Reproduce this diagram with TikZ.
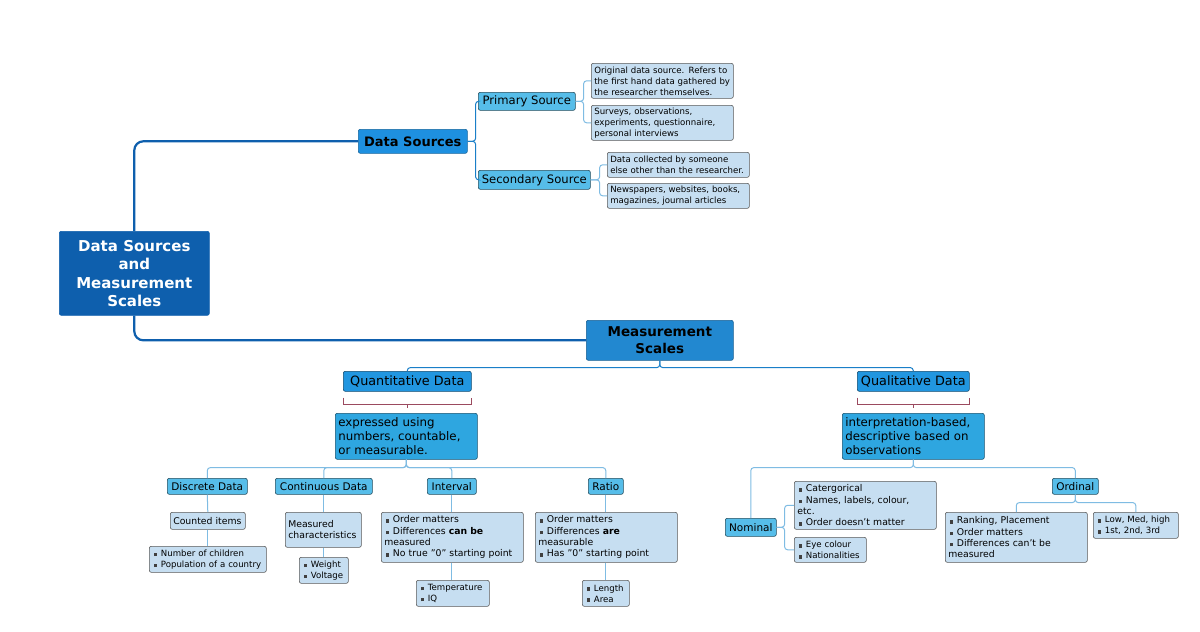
\documentclass[tikz,border=0pt]{standalone}
\usepackage{fontspec}
\setmainfont{DejaVu Sans}
\definecolor{rootb}{HTML}{0E5FAD}
\definecolor{dsb}{HTML}{1E90E0}
\definecolor{msb}{HTML}{2288D0}
\definecolor{lvb}{HTML}{2196E0}
\definecolor{bodyb}{HTML}{2EA6E0}
\definecolor{midb}{HTML}{56BDE9}
\definecolor{leafb}{HTML}{C6DEF1}
\definecolor{connb}{HTML}{1A7FC8}
\definecolor{connl}{HTML}{7FBCE3}
\definecolor{brk}{HTML}{9B4A5F}
\hyphenpenalty=10000 \exhyphenpenalty=10000
\AtBeginDocument{\language=255 \hyphenpenalty=10000}
\newcommand\bul{\hspace*{1.5pt}{\color{black!75}\rule{3.6pt}{3.6pt}}\hspace{3.5pt}}
\newcommand\dq{\char"22\relax}
\newcommand\bx[7]{\pgfmathsetmacro\bw{#4-#2}\pgfmathsetmacro\bh{#5-#3}\pgfmathsetmacro\tw{#4-#2-6}%
\node[anchor=north west,minimum width=\bw pt,minimum height=\bh pt,text width=\tw pt,#6] (#1) at (#2,#3) {\language=255 #7};}
\tikzset{
 box/.style={rounded corners=2pt,inner xsep=3pt,inner ysep=1pt,draw=black!65,line width=0.6pt},
 ctr/.style={align=center,text width={}},
 rootn/.style={box,fill=rootb,draw=rootb,text=white,font=\bfseries\fontsize{15}{18.5}\selectfont,ctr},
 dsn/.style={box,fill=dsb,draw=dsb!70!black,font=\bfseries\fontsize{13}{15}\selectfont,ctr},
 msn/.style={box,fill=msb,draw=msb!70!black,font=\bfseries\fontsize{13.5}{17}\selectfont,ctr},
 lvn/.style={box,fill=lvb,draw=lvb!50!black,font=\fontsize{12.8}{14}\selectfont,ctr},
 bodyn/.style={box,fill=bodyb,draw=bodyb!50!black,font=\fontsize{11.8}{14}\selectfont,align=left},
 midn/.style={box,fill=midb,draw=midb!40!black,font=\fontsize{10.5}{11}\selectfont,ctr},
 srcn/.style={box,fill=midb,draw=midb!40!black,font=\fontsize{11.6}{13}\selectfont,ctr},
 leafn/.style={box,fill=leafb,font=\fontsize{8.6}{11}\selectfont,align=left},
 leafc/.style={box,fill=leafb,font=\fontsize{9.3}{11.3}\selectfont,align=left},
 conn/.style={draw=connb,line width=1pt,rounded corners=3pt},
 connL/.style={draw=connl,line width=1pt,rounded corners=3pt},
 rootc/.style={draw=rootb,line width=2.2pt,rounded corners=9pt},
}
\begin{document}
\begin{tikzpicture}[x=1pt,y=-1pt]
\useasboundingbox[fill=white] (0,0) rectangle (1200,632);
\bx{root}{59}{231}{209}{315}{rootn}{Data Sources\\and\\Measurement\\Scales}
\bx{ds}{358}{129}{467}{153}{dsn}{Data Sources}
\bx{ps}{478}{92}{575}{110}{srcn}{Primary Source}
\bx{ss}{478}{170}{590}{189}{srcn}{Secondary Source}
\bx{o1}{591}{63}{733}{98}{leafn}{Original data source. Refers to the first hand data gathered by the researcher themselves.}
\bx{o2}{591}{105}{733}{140}{leafn}{Surveys, observations, experiments, questionnaire, personal interviews}
\bx{s1}{607}{152}{749}{177}{leafn}{Data collected by someone else other than the researcher.}
\bx{s2}{607}{183}{749}{208}{leafn}{Newspapers, websites, books, magazines, journal articles}
\bx{ms}{586}{320}{733}{360}{msn}{Measurement\\Scales}
\bx{qn}{343}{371}{471}{391}{lvn}{Quantitative Data}
\bx{ql}{857}{371}{969}{391}{lvn}{Qualitative Data}
\bx{ex}{335}{413}{477}{459}{bodyn}{expressed using numbers, countable, or measurable.}
\bx{ip}{842}{413}{984}{459}{bodyn}{interpretation-based, descriptive based on observations}
\bx{dd}{167}{478}{247}{494}{midn}{Discrete Data}
\bx{cd}{275}{478}{372}{494}{midn}{Continuous Data}
\bx{iv}{427}{478}{476}{494}{midn}{Interval}
\bx{rt}{588}{478}{623}{494}{midn}{Ratio}
\bx{ci}{170}{512}{245}{529}{leafc}{Counted items}
\bx{nc}{149}{546}{266}{572}{leafn}{\bul Number of children\\\bul Population of a country}
\bx{mc}{285}{512}{361}{547}{leafc}{Measured\\characteristics}
\bx{wv}{299}{557}{348}{583}{leafn}{\bul Weight\\\bul Voltage}
\bx{ib}{381}{512}{523}{562}{leafc}{\bul Order matters\\\bul Differences \textbf{can be}\\measured\\\bul No true \dq0\dq{} starting point}
\bx{te}{416}{580}{489}{606}{leafn}{\bul Temperature\\\bul IQ}
\bx{rb}{535}{512}{677}{562}{leafc}{\bul Order matters\\\bul Differences \textbf{are}\\measurable\\\bul Has \dq0\dq{} starting point}
\bx{la}{582}{580}{629}{606}{leafn}{\bul Length\\\bul Area}
\bx{nm}{725}{518}{776}{536}{midn}{Nominal}
\bx{cat}{794}{481}{936}{529}{leafc}{\bul Catergorical\\\bul Names, labels, colour,\\etc.\\\bul Order doesn't matter}
\bx{eye}{794}{537}{866}{562}{leafn}{\bul Eye colour\\\bul Nationalities}
\bx{od}{1052}{478}{1098}{494}{midn}{Ordinal}
\bx{rk}{945}{512}{1087}{562}{leafc}{\bul Ranking, Placement\\\bul Order matters\\\bul Differences can't be\\measured}
\bx{lo}{1093}{512}{1178}{538}{leafn}{\bul Low, Med, high\\\bul 1st, 2nd, 3rd}
\path[rootc] (root.north) |- (ds.west);
\path[rootc] (root.south) |- (ms.west);
\path[conn] (ds.east) -- ++(8,0) |- (ps.west);
\path[conn] (ds.east) -- ++(8,0) |- (ss.west);
\path[connL] (ps.east) -- ++(8,0) |- (o1.west);
\path[connL] (ps.east) -- ++(8,0) |- (o2.west);
\path[connL] (ss.east) -- ++(9,0) |- (s1.west);
\path[connL] (ss.east) -- ++(9,0) |- (s2.west);
\path[conn] (ms.south) -- ++(0,7) -| (qn.north);
\path[conn] (ms.south) -- ++(0,7) -| (ql.north);
\foreach \q in {qn,ql}{
\draw[brk,line width=1pt] ([yshift=-6pt]\q.south west) -- ++(0,7) -- ([yshift=-13pt]\q.south east) -- ++(0,-7);
\draw[brk,line width=1pt] ([yshift=-13pt]\q.south) -- ++(0,3);}
\foreach \c in {dd,cd,iv,rt} \path[connL] (ex.south) -- ++(0,8) -| (\c.north);
\path[connL] (dd.south) -- (ci.north);
\path[connL] (ci.south) -- (ci.south |- nc.north);
\path[connL] (cd.south) -- (cd.south |- mc.north);
\path[connL] (mc.south) -- (mc.south |- wv.north);
\path[connL] (iv.south) -- (iv.south |- ib.north);
\path[connL] (ib.south -| iv.south) -- (iv.south |- te.north);
\path[connL] (rt.south) -- (rt.south |- rb.north);
\path[connL] (rb.south -| rt.south) -- (rt.south |- la.north);
\path[connL] (ip.south) -- ++(0,8) -| (nm.north);
\path[connL] (ip.south) -- ++(0,8) -| (od.north);
\path[connL] (nm.east) -- ++(8,0) |- (cat.west);
\path[connL] (nm.east) -- ++(8,0) |- (eye.west);
\path[connL] (od.south) -- ++(0,8) -| (rk.north);
\path[connL] (od.south) -- ++(0,8) -| (lo.north);
\end{tikzpicture}
\end{document}
